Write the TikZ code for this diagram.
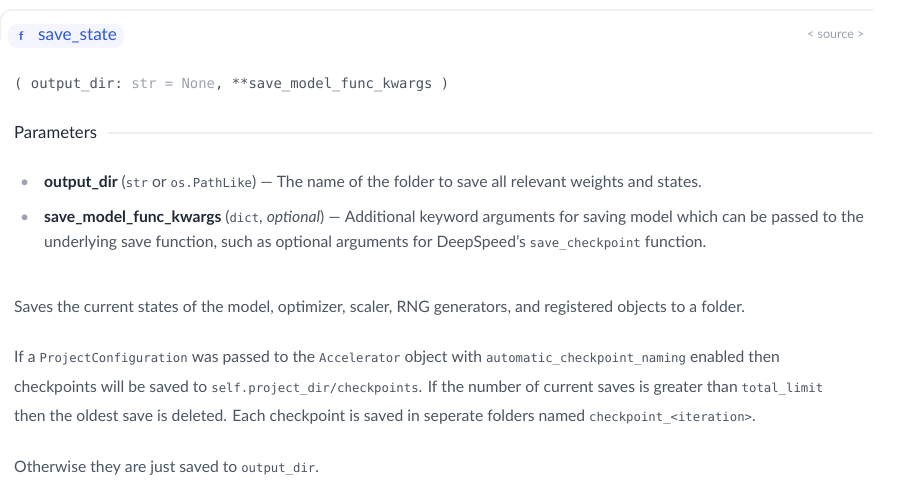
\documentclass[tikz,border=0pt]{standalone}
\usepackage{fontspec}
\setmainfont{Lato}
\setmonofont{DejaVu Sans Mono}
\definecolor{txt}{HTML}{4B5563}
\definecolor{dark}{HTML}{1F2937}
\definecolor{blu}{HTML}{2B59D9}
\definecolor{lgray}{HTML}{9CA3AF}
\definecolor{rule}{HTML}{EEEEEE}
\newcommand{\cd}[1]{{\ttfamily\fontsize{12.3}{14}\selectfont #1}}
\begin{document}
\begin{tikzpicture}[x=1pt,y=-1pt,
 ln/.style={anchor=base west,inner sep=0pt,text=txt,font=\fontsize{15.7}{18}\selectfont}]
\useasboundingbox[fill=white] (0,0) rectangle (901,492);
\draw[rule,line width=1.5pt] (0,40) -- (0,22) arc[start angle=180,end angle=270,radius=12] -- (873,10);
\fill[blue!4] (8,24) [rounded corners=9pt] rectangle (124,48);
\node[ln,text=blu,font=\bfseries\fontsize{12}{14}\selectfont] (f) at (19,41) {f};
\node[ln,text=blu,font=\fontsize{17.2}{20}\selectfont] (name) at (38,41) {save\_state};
\node[ln,text=lgray,font=\fontsize{12.5}{14}\selectfont] (src) at (807,39) {< source >};
\node[ln,text=txt] (sig) at (14,89) {{\ttfamily\fontsize{13.9}{16}\selectfont ( output\_dir: \textcolor{lgray}{str = None}, **save\_model\_func\_kwargs )}};
\node[ln,text=dark,font=\fontsize{16.7}{19}\selectfont] (par) at (14,138) {Parameters};
\draw[rule,line width=1.2pt] (108,133) -- (873,133);
\node[ln,text=lgray] (b1) at (20,187) {•};
\node[ln] (p1) at (44,187) {\textcolor{dark}{\bfseries output\_dir} (\cd{str} or \cd{os.PathLike}) — The name of the folder to save all relevant weights and states.};
\node[ln,text=lgray] (b2) at (20,222) {•};
\node[ln] (p2) at (44,222) {\textcolor{dark}{\bfseries save\_model\_func\_kwargs} (\cd{dict}, \textit{optional}) — Additional keyword arguments for saving model which can be passed to the};
\node[ln] (p2b) at (44,247) {underlying save function, such as optional arguments for DeepSpeed’s \cd{save\_checkpoint} function.};
\node[ln] (s1) at (14,312) {Saves the current states of the model, optimizer, scaler, RNG generators, and registered objects to a folder.};
\node[ln] (s2) at (14,362) {If a \cd{ProjectConfiguration} was passed to the \cd{Accelerator} object with \cd{automatic\_checkpoint\_naming} enabled then};
\node[ln] (s3) at (14,392) {checkpoints will be saved to \cd{self.project\_dir/checkpoints}. If the number of current saves is greater than \cd{total\_limit}};
\node[ln] (s4) at (14,421) {then the oldest save is deleted. Each checkpoint is saved in seperate folders named \cd{checkpoint\_<iteration>}.};
\node[ln] (s5) at (14,472) {Otherwise they are just saved to \cd{output\_dir}.};
\end{tikzpicture}
\end{document}
